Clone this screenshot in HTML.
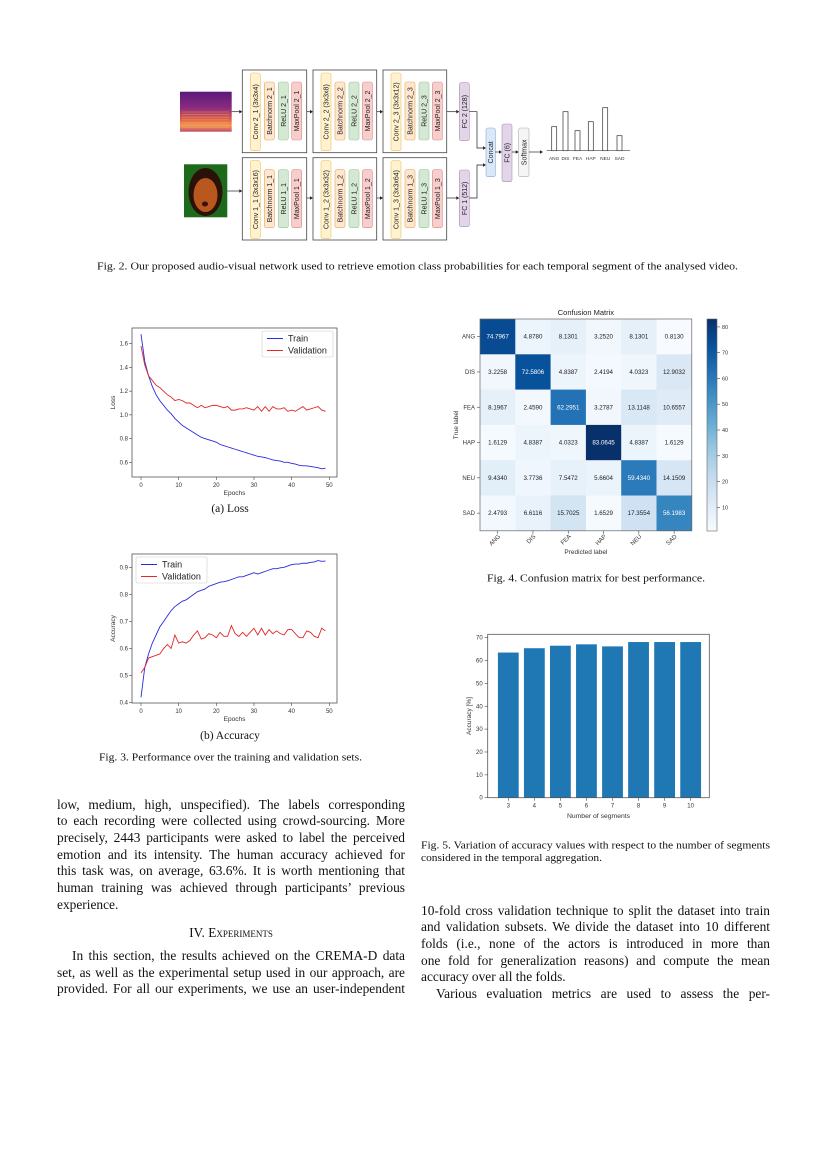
<!DOCTYPE html>
<html><head><meta charset="utf-8">
<style>
body{margin:0;background:#fff;}
#page{position:relative;width:827px;height:1169px;overflow:hidden;background:#fff;font-family:"Liberation Serif",serif;color:#111;}
.ln{position:absolute;font-size:13.4px;line-height:16.7px;height:16.7px;white-space:nowrap;text-align:justify;text-align-last:justify;}
.last{text-align-last:left;}
svg{position:absolute;left:0;top:0;}
</style></head>
<body>
<div id="page">
<svg id="fig" width="827" height="1169" viewBox="0 0 827 1169">
<defs>
<linearGradient id="spec" x1="0" y1="0" x2="0" y2="1">
<stop offset="0" stop-color="#5a1a7a"/><stop offset="0.4" stop-color="#8a2a80"/><stop offset="0.7" stop-color="#e0604a"/><stop offset="0.85" stop-color="#f39a50"/><stop offset="1" stop-color="#c04a70"/>
</linearGradient>
<linearGradient id="cbar" x1="0" y1="1" x2="0" y2="0">
<stop offset="0" stop-color="#f7fbff"/><stop offset="0.125" stop-color="#deebf7"/><stop offset="0.25" stop-color="#c6dbef"/><stop offset="0.375" stop-color="#9ecae1"/><stop offset="0.5" stop-color="#6baed6"/><stop offset="0.625" stop-color="#4292c6"/><stop offset="0.75" stop-color="#2171b5"/><stop offset="0.875" stop-color="#08519c"/><stop offset="1" stop-color="#08306b"/>
</linearGradient>
</defs>
<g id="net"></g>
<g id="loss"></g>
<g id="acc"></g>
<g id="cm"></g>
<g id="bars"></g>
<g font-family="Liberation Serif, serif" fill="#111">
<text x="97" y="269.5" font-size="10" textLength="641" lengthAdjust="spacingAndGlyphs">Fig. 2.  Our proposed audio-visual network used to retrieve emotion class probabilities for each temporal segment of the analysed video.</text>
<text x="230" y="512" font-size="11.5" text-anchor="middle">(a) Loss</text>
<text x="230" y="739" font-size="11.5" text-anchor="middle">(b) Accuracy</text>
<text x="99" y="760.5" font-size="10" textLength="263" lengthAdjust="spacingAndGlyphs">Fig. 3.  Performance over the training and validation sets.</text>
<text x="487" y="581.5" font-size="10" textLength="218" lengthAdjust="spacingAndGlyphs">Fig. 4.  Confusion matrix for best performance.</text>
<text x="421" y="848.5" font-size="10" textLength="349" lengthAdjust="spacingAndGlyphs">Fig. 5.  Variation of accuracy values with respect to the number of segments</text>
<text x="421" y="861" font-size="10" textLength="181" lengthAdjust="spacingAndGlyphs">considered in the temporal aggregation.</text>
</g>
</svg>

<div>
<div class="ln" style="left:57px;top:796.6px;width:348px">low, medium, high, unspecified). The labels corresponding</div>
<div class="ln" style="left:57px;top:813.3px;width:348px">to each recording were collected using crowd-sourcing. More</div>
<div class="ln" style="left:57px;top:830px;width:348px">precisely, 2443 participants were asked to label the perceived</div>
<div class="ln" style="left:57px;top:846.7px;width:348px">emotion and its intensity. The human accuracy achieved for</div>
<div class="ln" style="left:57px;top:863.4px;width:348px">this task was, on average, 63.6%. It is worth mentioning that</div>
<div class="ln" style="left:57px;top:880.1px;width:348px">human training was achieved through participants’ previous</div>
<div class="ln last" style="left:57px;top:896.8px;width:348px">experience.</div>
<div class="ln last" style="left:57px;top:924.6px;width:348px;text-align:center;text-align-last:center;font-variant:small-caps">IV. Experiments</div>
<div class="ln" style="left:72px;top:948px;width:333px">In this section, the results achieved on the CREMA-D data</div>
<div class="ln" style="left:57px;top:964.7px;width:348px">set, as well as the experimental setup used in our approach, are</div>
<div class="ln" style="left:57px;top:981.4px;width:348px">provided. For all our experiments, we use an user-independent</div>
</div>
<div>
<div class="ln" style="left:421px;top:902.6px;width:349px">10-fold cross validation technique to split the dataset into train</div>
<div class="ln" style="left:421px;top:919.3px;width:349px">and validation subsets. We divide the dataset into 10 different</div>
<div class="ln" style="left:421px;top:936px;width:349px">folds (i.e., none of the actors is introduced in more than</div>
<div class="ln" style="left:421px;top:952.7px;width:349px">one fold for generalization reasons) and compute the mean</div>
<div class="ln last" style="left:421px;top:969.4px;width:349px">accuracy over all the folds.</div>
<div class="ln" style="left:436px;top:986.1px;width:334px">Various evaluation metrics are used to assess the per-</div>
</div>
</div>

<script>
// ---------- data ----------
const epochs = Array.from({length:50},(_, i)=>i);
const lossTrain = [1.68,1.45,1.33,1.24,1.17,1.12,1.08,1.04,1.01,0.97,0.94,0.91,0.89,0.87,0.85,0.83,0.81,0.80,0.79,0.78,0.77,0.75,0.74,0.73,0.72,0.71,0.70,0.69,0.68,0.67,0.66,0.65,0.645,0.64,0.63,0.62,0.615,0.61,0.60,0.60,0.59,0.585,0.575,0.57,0.57,0.565,0.56,0.555,0.545,0.55];
const lossVal = [1.58,1.42,1.33,1.29,1.25,1.23,1.20,1.17,1.15,1.12,1.13,1.12,1.10,1.10,1.08,1.06,1.08,1.06,1.07,1.08,1.08,1.07,1.06,1.07,1.04,1.04,1.05,1.05,1.06,1.05,1.04,1.07,1.03,1.07,1.03,1.07,1.05,1.05,1.06,1.03,1.04,1.03,1.05,1.07,1.04,1.05,1.06,1.07,1.04,1.03];
const accTrain = [0.42,0.53,0.58,0.62,0.65,0.68,0.70,0.72,0.74,0.755,0.765,0.775,0.78,0.79,0.80,0.81,0.815,0.82,0.83,0.835,0.84,0.845,0.847,0.85,0.855,0.86,0.865,0.865,0.87,0.875,0.88,0.875,0.88,0.885,0.89,0.895,0.895,0.898,0.90,0.905,0.91,0.912,0.912,0.915,0.915,0.918,0.92,0.925,0.922,0.923];
const accVal = [0.51,0.53,0.565,0.57,0.575,0.58,0.60,0.615,0.60,0.65,0.62,0.625,0.62,0.63,0.65,0.665,0.635,0.64,0.655,0.65,0.64,0.66,0.645,0.645,0.685,0.655,0.645,0.66,0.645,0.66,0.675,0.65,0.675,0.65,0.67,0.655,0.665,0.655,0.65,0.67,0.67,0.655,0.64,0.64,0.665,0.66,0.645,0.64,0.675,0.665];
const lossTicks = [0.6,0.8,1.0,1.2,1.4,1.6];
const accTicks = [0.4,0.5,0.6,0.7,0.8,0.9];
const epochTicks = [0,10,20,30,40,50];
const emotions = ["ANG","DIS","FEA","HAP","NEU","SAD"];
const cmRow0 = [74.7967,4.8780,8.1301,3.2520,8.1301,0.8130];
const cmRow1 = [3.2258,72.5806,4.8387,2.4194,4.0323,12.9032];
const cmRow2 = [8.1967,2.4590,62.2951,3.2787,13.1148,10.6557];
const cmRow3 = [1.6129,4.8387,4.0323,83.0645,4.8387,1.6129];
const cmRow4 = [9.4340,3.7736,7.5472,5.6604,59.4340,14.1509];
const cmRow5 = [2.4793,6.6116,15.7025,1.6529,17.3554,56.1983];
const cbTicks = [10,20,30,40,50,60,70,80];
const segments = [3,4,5,6,7,8,9,10];
const segAcc = [63.5,65.4,66.5,67.1,66.2,68.1,68.1,68.1];
const segTicks = [0,10,20,30,40,50,60,70];
const outProbs = [0.24,0.39,0.20,0.29,0.43,0.15];

const NS="http://www.w3.org/2000/svg";
function el(parent, tag, attrs, text){
  const e=document.createElementNS(NS,tag);
  for(const k in attrs) e.setAttribute(k,attrs[k]);
  if(text!==undefined) e.textContent=text;
  parent.appendChild(e); return e;
}
const SANS="Liberation Sans, DejaVu Sans, sans-serif";

// ---------- line charts ----------
function lineChart(g, cfg){
  const xs = e => 141 + e*(188.3/50);
  const ys = v => cfg.y0 - (v-cfg.v0)*cfg.k;
  const fr = el(g,'rect',{x:cfg.L,y:cfg.T,width:cfg.R-cfg.L,height:cfg.B-cfg.T,fill:'none',stroke:'#555','stroke-width':0.8});
  
  
  cfg.yt.forEach(t=>{
    const y=ys(t);
    el(g,'line',{x1:cfg.L-3,x2:cfg.L,y1:y,y2:y,stroke:'#444','stroke-width':0.6});
    const tx=el(g,'text',{x:cfg.L-4,y:y+2,'font-size':6,'text-anchor':'end','font-family':SANS,fill:'#333'},t.toFixed(1));
    
    
  });
  epochTicks.forEach(t=>{
    const x=xs(t);
    el(g,'line',{x1:x,x2:x,y1:cfg.B,y2:cfg.B+3,stroke:'#444','stroke-width':0.6});
    const tx=el(g,'text',{x:x,y:cfg.B+10,'font-size':6,'text-anchor':'middle','font-family':SANS,fill:'#333'},t);
    
    
  });
  const xl=el(g,'text',{x:(cfg.L+cfg.R)/2,y:cfg.B+18,'font-size':6.5,'text-anchor':'middle','font-family':SANS,fill:'#333'},'Epochs');
  
  
  const yl=el(g,'text',{x:0,y:0,'font-size':6.5,'text-anchor':'middle','font-family':SANS,fill:'#333',transform:`translate(115,${(cfg.T+cfg.B)/2}) rotate(-90)`},cfg.ylabel);
  
  
  [[cfg.train,'#2a2ae0','train-line'],[cfg.val,'#e02828','validation-line']].forEach(([d,c,n])=>{
    const p=el(g,'polyline',{points:d.map((v,i)=>xs(epochs[i])+','+ys(v)).join(' '),fill:'none',stroke:c,'stroke-width':0.9});
    
    
  });
  const lg=el(g,'g',{});
  
  
  el(lg,'rect',{x:cfg.lx,y:cfg.ly,width:71,height:26,fill:'#fff',stroke:'#ccc','stroke-width':0.6,rx:1.5});
  [['Train','#2a2ae0'],['Validation','#e02828']].forEach(([t,c],i)=>{
    const y=cfg.ly+7.5+i*12;
    el(lg,'line',{x1:cfg.lx+5,x2:cfg.lx+21,y1:y,y2:y,stroke:c,'stroke-width':1});
    const tt=el(lg,'text',{x:cfg.lx+26,y:y+3,'font-size':9,'font-family':SANS,fill:'#222'},t);
    
    
  });
}
lineChart(document.getElementById('loss'),{L:132,R:337,T:328,B:477,y0:462.3,v0:0.6,k:118.6,yt:lossTicks,ylabel:'Loss',train:lossTrain,val:lossVal,lx:262,ly:331});
lineChart(document.getElementById('acc'),{L:132,R:337,T:554,B:703,y0:702.7,v0:0.4,k:270.8,yt:accTicks,ylabel:'Accuracy',train:accTrain,val:accVal,lx:136,ly:557});

// ---------- confusion matrix ----------
(function(){
  const g=document.getElementById('cm');
  const rows=[cmRow0,cmRow1,cmRow2,cmRow3,cmRow4,cmRow5];
  const stops=['#f7fbff','#deebf7','#c6dbef','#9ecae1','#6baed6','#4292c6','#2171b5','#08519c','#08306b'];
  const all=rows.flat(); const vmin=Math.min(...all), vmax=Math.max(...all);
  function hex(h){return [1,3,5].map(i=>parseInt(h.substr(i,2),16));}
  function col(v){
    let t=(v-vmin)/(vmax-vmin)*8; const i=Math.min(7,Math.floor(t)); const f=t-i;
    const a=hex(stops[i]), b=hex(stops[i+1]);
    return 'rgb('+a.map((c,j)=>Math.round(c+(b[j]-c)*f)).join(',')+')';
  }
  const X0=480,Y0=319,S=35.3;
  const tl=el(g,'text',{x:X0+3*S,y:315,'font-size':7.5,'text-anchor':'middle','font-family':SANS,fill:'#222'},'Confusion Matrix');
  
  
  rows.forEach((r,i)=>r.forEach((v,j)=>{
    const c=el(g,'rect',{x:X0+j*S,y:Y0+i*S,width:S+0.3,height:S+0.3,fill:col(v)});
    
    
    const t=el(g,'text',{x:X0+j*S+S/2,y:Y0+i*S+S/2+2,'font-size':6.2,'text-anchor':'middle','font-family':SANS,fill:v>vmax/2?'#fff':'#222'},v.toFixed(4));
    
    
  }));
  el(g,'rect',{x:X0,y:Y0,width:6*S,height:6*S,fill:'none',stroke:'#666','stroke-width':0.7});
  emotions.forEach((e,i)=>{
    const y=Y0+i*S+S/2;
    el(g,'line',{x1:X0-3,x2:X0,y1:y,y2:y,stroke:'#444','stroke-width':0.6});
    const t=el(g,'text',{x:X0-5,y:y+2,'font-size':6,'text-anchor':'end','font-family':SANS,fill:'#333'},e);
    
    
    const x=X0+i*S+S/2;
    el(g,'line',{x1:x,x2:x,y1:Y0+6*S,y2:Y0+6*S+3,stroke:'#444','stroke-width':0.6});
    const t2=el(g,'text',{x:0,y:0,'font-size':6,'text-anchor':'end','font-family':SANS,fill:'#333',transform:`translate(${x+3},${Y0+6*S+6}) rotate(-45)`},e);
    
    
  });
  const yl=el(g,'text',{x:0,y:0,'font-size':6.5,'text-anchor':'middle','font-family':SANS,fill:'#333',transform:`translate(458,${Y0+3*S}) rotate(-90)`},'True label');
  
  
  const xl=el(g,'text',{x:X0+3*S,y:554,'font-size':6.5,'text-anchor':'middle','font-family':SANS,fill:'#333'},'Predicted label');
  
  
  const cb=el(g,'rect',{x:707,y:319,width:10,height:212,fill:'url(#cbar)',stroke:'#666','stroke-width':0.6});
  
  
  cbTicks.forEach(t=>{
    const y=531-(t-vmin)/(vmax-vmin)*212;
    el(g,'line',{x1:717,x2:720,y1:y,y2:y,stroke:'#444','stroke-width':0.6});
    const tx=el(g,'text',{x:722,y:y+2,'font-size':5.5,'font-family':SANS,fill:'#333'},t);
    
    
  });
})();

// ---------- bar chart ----------
(function(){
  const g=document.getElementById('bars');
  const L=487.7,R=709.3,T=634.3,B=797.7;
  const ys=v=>B-v*(160/70);
  const xs=s=>508.3+(s-3)*26.05;
  segTicks.forEach(t=>{
    el(g,'line',{x1:L-3,x2:L,y1:ys(t),y2:ys(t),stroke:'#444','stroke-width':0.6});
    const tx=el(g,'text',{x:L-5,y:ys(t)+2,'font-size':6,'text-anchor':'end','font-family':SANS,fill:'#333'},t);
    
    
  });
  segments.forEach((s,i)=>{
    const b=el(g,'rect',{x:xs(s)-10.4,y:ys(segAcc[i]),width:20.8,height:B-ys(segAcc[i]),fill:'#1f77b4'});
    
    
    el(g,'line',{x1:xs(s),x2:xs(s),y1:B,y2:B+3,stroke:'#444','stroke-width':0.6});
    const tx=el(g,'text',{x:xs(s),y:B+10,'font-size':6,'text-anchor':'middle','font-family':SANS,fill:'#333'},s);
    
    
  });
  el(g,'rect',{x:L,y:T,width:R-L,height:B-T,fill:'none',stroke:'#555','stroke-width':0.8});
  const xl=el(g,'text',{x:(L+R)/2,y:818,'font-size':6.8,'text-anchor':'middle','font-family':SANS,fill:'#333'},'Number of segments');
  
  
  const yl=el(g,'text',{x:0,y:0,'font-size':6.5,'text-anchor':'middle','font-family':SANS,fill:'#333',transform:`translate(471,${(T+B)/2}) rotate(-90)`},'Accuracy [%]');
  
  
})();

// ---------- network diagram ----------
(function(){
  const g=document.getElementById('net');
  const spec=el(g,'rect',{x:180,y:91.7,width:51.7,height:40,fill:'url(#spec)'});
  
  
  for(let i=0;i<7;i++) el(g,'line',{x1:182,x2:229,y1:112+i*2.6,y2:112+i*2.6,stroke:'#f7b060','stroke-width':0.6,opacity:0.6});
  const face=el(g,'rect',{x:184,y:164.3,width:43.3,height:53,fill:'#1d6a1d'});
  
  
  el(g,'ellipse',{cx:205.5,cy:192,rx:17,ry:24,fill:'#2a1208'});
  el(g,'ellipse',{cx:205.5,cy:195,rx:12,ry:17,fill:'#b8581f'});
  el(g,'ellipse',{cx:205,cy:204,rx:3,ry:2.5,fill:'#3a1008'});
  const boxX=[242.3,313,383], boxW=[64.4,63.7,63.7];
  const pillCol=[['#fff2cc','#e6c26a'],['#ffe6cc','#e0a860'],['#d5e8d4','#9cc894'],['#f8cecc','#d98a86']];
  const labels=[[['Conv 2_1 (3x3x4)','Batchnorm 2_1','ReLU 2_1','MaxPool 2_1'],['Conv 2_2 (3x3x8)','Batchnorm 2_2','ReLU 2_2','MaxPool 2_2'],['Conv 2_3 (3x3x12)','Batchnorm 2_3','ReLU 2_3','MaxPool 2_3']],
                [['Conv 1_1 (3x3x16)','Batchnorm 1_1','ReLU 1_1','MaxPool 1_1'],['Conv 1_2 (3x3x32)','Batchnorm 1_2','ReLU 1_2','MaxPool 1_2'],['Conv 1_3 (3x3x64)','Batchnorm 1_3','ReLU 1_3','MaxPool 1_3']]];
  const rowsY=[[70,152.7],[157.7,240]];
  function pill(x,y,w,h,fc,sc,txt,name){
    const r=el(g,'rect',{x:x,y:y,width:w,height:h,rx:2,fill:fc,stroke:sc,'stroke-width':0.6});
    
    
    el(g,'text',{x:0,y:0,'font-size':7,'text-anchor':'middle','font-family':SANS,fill:'#222',transform:`translate(${x+w/2+2.5},${y+h/2}) rotate(-90)`},txt);
  }
  function arrow(x1,y1,x2,y2){
    el(g,'line',{x1:x1,y1:y1,x2:x2-2.5,y2:y2,stroke:'#222','stroke-width':0.7});
    el(g,'path',{d:`M${x2},${y2} l-3,-1.8 l0,3.6 z`,fill:'#222'});
  }
  rowsY.forEach(([t,b],r)=>{
    const h=b-t, pad=(h-77.7)/2;
    boxX.forEach((bx,k)=>{
      const box=el(g,'rect',{x:bx,y:t,width:boxW[k],height:h,fill:'none',stroke:'#444','stroke-width':0.8});
      
      
      const offs=[8,22,36,49.4];
      labels[r][k].forEach((lb,p)=>{
        const ph=p===0?77.7:58;
        const py=p===0?t+3:t+12;
        pill(bx+offs[p],py,10,ph,pillCol[p][0],pillCol[p][1],lb,'layer-box');
      });
      if(k<2) arrow(bx+boxW[k],r?198:111.7,boxX[k+1],r?198:111.7);
    });
  });
  arrow(231.7,111.7,242.3,111.7);
  arrow(227.3,191,242.3,191);
  arrow(446.7,111.7,459.3,111.7);
  arrow(446.7,198,459.3,198);
  pill(459.3,82.7,10,58,'#e1d5e7','#a88fbd','FC 2 (128)','fc2-box');
  pill(459.3,170,10,56.7,'#e1d5e7','#a88fbd','FC 1 (512)','fc1-box');
  el(g,'polyline',{points:'469.3,111.7 477,111.7 477,148 483,148',fill:'none',stroke:'#222','stroke-width':0.7});
  el(g,'path',{d:'M486,148 l-3,-1.8 l0,3.6 z',fill:'#222'});
  el(g,'polyline',{points:'469.3,198 477,198 477,165 483,165',fill:'none',stroke:'#222','stroke-width':0.7});
  el(g,'path',{d:'M486,165 l-3,-1.8 l0,3.6 z',fill:'#222'});
  pill(486,128,9.3,48.7,'#dae8fc','#8aa8d0','Concat','concat-box');
  arrow(495.3,152,502,152);
  pill(502,124,10,57.7,'#e1d5e7','#a88fbd','FC (6)','fc6-box');
  arrow(512,152,518.7,152);
  pill(518.7,128,10.3,48.7,'#f5f5f5','#aaaaaa','Softmax','softmax-box');
  arrow(529,152,543,152);
  el(g,'line',{x1:546.7,x2:630,y1:150.7,y2:150.7,stroke:'#444','stroke-width':0.7});
  const bxs=[551.7,563,575,588.3,602.7,617];
  emotions.forEach((e,i)=>{
    const top=150.7-outProbs[i]*100;
    const b=el(g,'rect',{x:bxs[i],y:top,width:5,height:150.7-top,fill:'#fff',stroke:'#333','stroke-width':0.7});
    
    
    const t=el(g,'text',{x:bxs[i]+2.5,y:160,'font-size':4.8,'text-anchor':'middle','font-family':SANS,fill:'#333'},e);
    
    
  });
})();
</script>
</body></html>
